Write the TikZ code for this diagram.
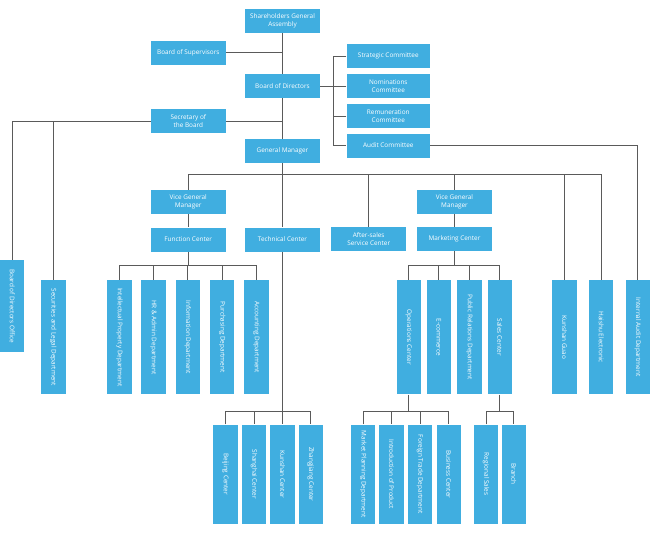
\documentclass[tikz,border=0pt]{standalone}
\usepackage{fontspec}
\setmainfont{Open Sans}
\definecolor{blu}{RGB}{64,174,224}
\definecolor{ln}{RGB}{90,90,90}
\begin{document}
\begin{tikzpicture}[x=1pt,y=-1pt,
  hbox/.style={fill=blu,text=white,inner sep=0pt,minimum width=75pt,minimum height=24pt,align=center,font=\fontsize{6.4}{8}\selectfont},
  cbox/.style={hbox,minimum width=83.3pt},
  vbox/.style={fill=blu,inner sep=0pt,minimum width=24.4pt,minimum height=114.3pt},
  bbox/.style={fill=blu,inner sep=0pt,minimum width=24.4pt,minimum height=99.3pt},
  vtxt/.style={text=white,rotate=-90,inner sep=0pt,font=\fontsize{6.4}{8}\selectfont},
  conn/.style={draw=ln,line width=0.9pt}]
\useasboundingbox (0,0) rectangle (650,535);
% top
\node[hbox] (sga) at (282.5,21) {Shareholders General\\Assembly};
\node[hbox] (bos) at (188.3,52.8) {Board of Supervisors};
\node[hbox] (bod) at (282.5,86) {Board of Directors};
\node[cbox] (strat) at (388.3,56) {Strategic Committee};
\node[cbox] (nom) at (388.3,86) {Nominations\\Committee};
\node[cbox] (rem) at (388.3,116) {Remuneration\\Committee};
\node[cbox] (audit) at (388.3,145.5) {Audit Committee};
\node[hbox] (sec) at (188.3,121) {Secretary of\\the Board};
\node[hbox] (gm) at (282.5,151) {General Manager};
\node[hbox] (vgm1) at (188.2,202) {Vice General\\Manager};
\node[hbox] (func) at (188.2,239.5) {Function Center};
\node[hbox] (tech) at (282.5,239.5) {Technical Center};
\node[hbox] (after) at (368.7,239) {After-sales\\Service Center};
\node[hbox] (vgm2) at (454.5,202) {Vice General\\Manager};
\node[hbox] (mkt) at (454.5,239) {Marketing Center};
% vertical boxes
\node[fill=blu,inner sep=0pt,minimum width=24.4pt,minimum height=91.7pt] (bdo) at (12.2,306) {};
\node[vtxt] at (bdo.center) {Board of Directors Office};
\foreach \n/\x/\t in {secl/53.3/Securities and Legal Department,
  ip/119.5/Intellectual Property Department,
  hr/153.5/HR \& Admin Department,
  info/187.8/Information Department,
  purch/222.2/Purchasing Department,
  acct/256.5/Accounting Department,
  ops/408.8/Operations Center,
  ecom/438.8/E-commerce,
  pr/469.5/Public Relations Department,
  sales/499.8/Sales Center,
  kg/564.5/Kunshan Guao,
  hai/601.2/Haishu Electronic,
  iad/637.8/Internal Audit Department}{
  \node[vbox] (\n) at (\x,337.2) {};
  \node[vtxt] at (\n.center) {\t};
}
\foreach \n/\x/\t in {bj/225.5/Beijing Center,
  sh/254/Shanghai Center,
  kc/282.5/Kunshan Center,
  zj/310.8/Zhangjiang Center,
  mp/363.2/Market Planning Department,
  intro/391.5/Introduction of Product,
  ft/420/Foreign Trade Department,
  bc/448.7/Business Center,
  rs/486/Regional Sales,
  br/513.7/Branch}{
  \node[bbox] (\n) at (\x,474.3) {};
  \node[vtxt] at (\n.center) {\t};
}
% coordinates
\coordinate (cx) at (333.7,0);
\coordinate (gb) at (0,174);
\coordinate (fb) at (0,265.2);
\coordinate (mb) at (0,265.8);
\coordinate (lb) at (0,411.3);
% trunk
\draw[conn] (sga.south) -- (bod.north);
\draw[conn] (bod.south) -- (gm.north);
\draw[conn] (gm.south) -- (tech.north);
\draw[conn] (tech.south) -- (tech.south |- lb);
\draw[conn] (bos.east) -- (bos.east -| sga.south);
\draw[conn] (sec.east) -- (sec.east -| bod.south);
% committees
\draw[conn] (bod.east) -- (bod.east -| cx);
\draw[conn] (strat.west) -| (audit.west -| cx) -- (audit.west);
\draw[conn] (nom.west) -- (nom.west -| cx);
\draw[conn] (rem.west) -- (rem.west -| cx);
\draw[conn] (audit.east) -| (iad.north);
% secretary branches
\draw[conn] (sec.west) -| (bdo.north);
\draw[conn] (secl.north |- sec.west) -- (secl.north);
% GM branches
\draw[conn] (vgm1.north) |- (hai.north |- gb) -- (hai.north);
\draw[conn] (after.north |- gb) -- (after.north);
\draw[conn] (vgm2.north |- gb) -- (vgm2.north);
\draw[conn] (kg.north |- gb) -- (kg.north);
\draw[conn] (vgm1.south) -- (func.north);
\draw[conn] (vgm2.south) -- (mkt.north);
% function center
\draw[conn] (func.south) -- (func.south |- fb);
\draw[conn] (ip.north) |- (acct.north |- fb) -- (acct.north);
\foreach \n in {hr,info,purch} \draw[conn] (\n.north |- fb) -- (\n.north);
% marketing center
\draw[conn] (mkt.south) -- (mkt.south |- mb);
\draw[conn] (ops.north) |- (sales.north |- mb) -- (sales.north);
\foreach \n in {ecom,pr} \draw[conn] (\n.north |- mb) -- (\n.north);
% technical
\draw[conn] (bj.north) |- (zj.north |- lb) -- (zj.north);
\foreach \n in {sh,kc} \draw[conn] (\n.north |- lb) -- (\n.north);
% operations
\draw[conn] (ops.south) -- (ops.south |- lb);
\draw[conn] (mp.north) |- (bc.north |- lb) -- (bc.north);
\foreach \n in {intro,ft} \draw[conn] (\n.north |- lb) -- (\n.north);
% sales
\draw[conn] (sales.south) -- (sales.south |- lb);
\draw[conn] (rs.north) |- (br.north |- lb) -- (br.north);
\end{tikzpicture}
\end{document}
